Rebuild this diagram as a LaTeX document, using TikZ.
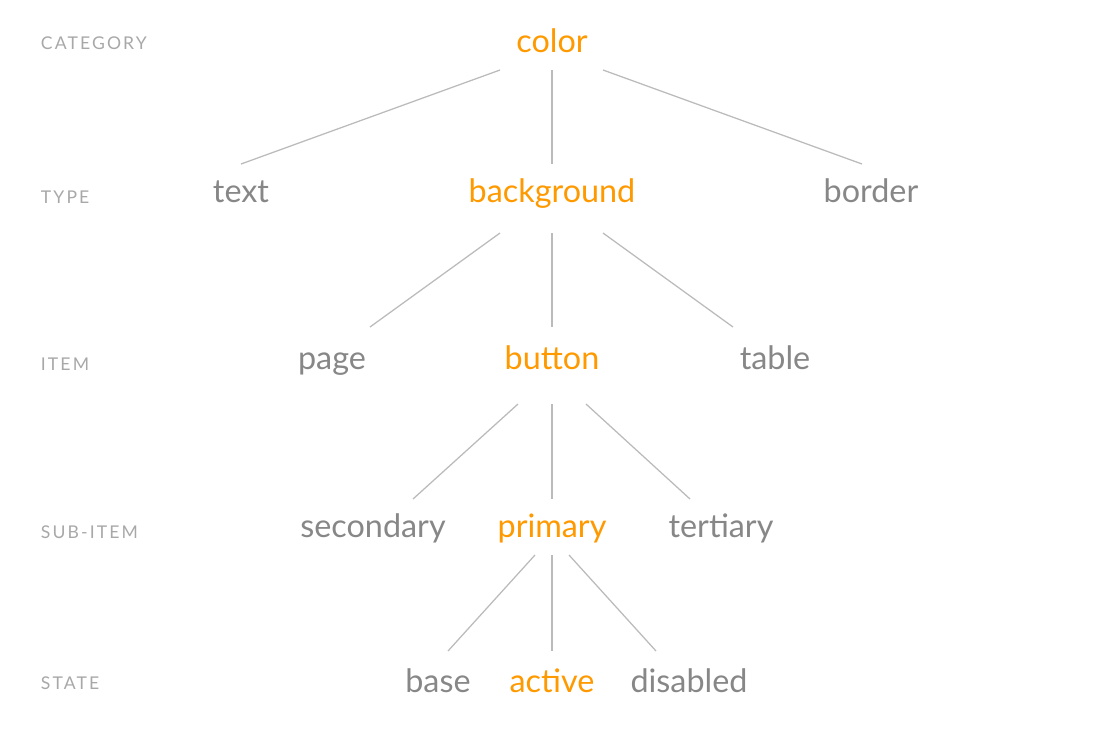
\documentclass[tikz,border=0pt]{standalone}
\usepackage{fontspec}
\setmainfont{Lato}
\definecolor{aorange}{HTML}{FF9900}
\definecolor{agray}{HTML}{878787}
\definecolor{aline}{HTML}{BBBBBB}
\definecolor{alabel}{HTML}{A8A8A8}
\begin{document}
\begin{tikzpicture}[x=0.025cm,y=-0.025cm,
  item/.style={font=\fontsize{23}{26}\selectfont,text=agray,anchor=base},
  sel/.style={item,text=aorange},
  lvl/.style={font=\fontsize{12.5}{14}\selectfont\addfontfeature{LetterSpace=12},text=alabel,anchor=base west},
  conn/.style={draw=aline,line width=0.9pt}]
\useasboundingbox (0,0) rectangle (1104,733);
\node[lvl] (l1) at (36,49) {CATEGORY};
\node[lvl] (l2) at (36,203) {TYPE};
\node[lvl] (l3) at (36,370) {ITEM};
\node[lvl] (l4) at (36,538) {SUB-ITEM};
\node[lvl] (l5) at (36,689) {STATE};
\node[sel] (color) at (552,52) {color};
\node[item] (text) at (241,202) {text};
\node[sel] (bg) at (552,202) {background};
\node[item] (border) at (871,202) {border};
\node[item] (page) at (332,369) {page};
\node[sel] (button) at (552,369) {button};
\node[item] (table) at (775,369) {table};
\node[item] (secondary) at (373,537) {secondary};
\node[sel] (primary) at (552,537) {primary};
\node[item] (tertiary) at (721,537) {tertiary};
\node[item] (base) at (438,692) {base};
\node[sel] (active) at (552,692) {active};
\node[item] (disabled) at (689,692) {disabled};
\coordinate (c1) at (500,70); \coordinate (c2) at (552,70); \coordinate (c3) at (603,70);
\coordinate (t1) at (241,164); \coordinate (t2) at (552,164); \coordinate (t3) at (862,164);
\coordinate (b1) at (500,233); \coordinate (b2) at (552,233); \coordinate (b3) at (603,233);
\coordinate (i1) at (370,327); \coordinate (i2) at (552,327); \coordinate (i3) at (733,327);
\coordinate (u1) at (518,404); \coordinate (u2) at (552,404); \coordinate (u3) at (586,404);
\coordinate (s1) at (413,499); \coordinate (s2) at (552,499); \coordinate (s3) at (690,499);
\coordinate (p1) at (535,555); \coordinate (p2) at (552,555); \coordinate (p3) at (569,555);
\coordinate (e1) at (448,651); \coordinate (e2) at (552,651); \coordinate (e3) at (656,651);
\foreach \a/\b in {c1/t1,c2/t2,c3/t3,b1/i1,b2/i2,b3/i3,u1/s1,u2/s2,u3/s3,p1/e1,p2/e2,p3/e3}
  \draw[conn] (\a) -- (\b);
\end{tikzpicture}
\end{document}
